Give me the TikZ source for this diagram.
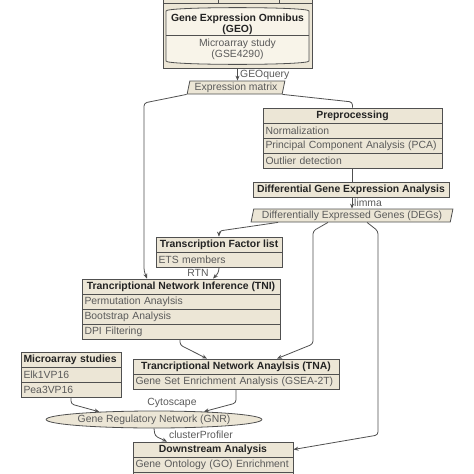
\documentclass[tikz,border=0pt]{standalone}
\usepackage{fontspec}
\setmainfont{Liberation Sans}
\usetikzlibrary{shapes.geometric,arrows.meta,calc}
\definecolor{beige}{RGB}{236,230,214}
\definecolor{lightbeige}{RGB}{248,244,233}
\definecolor{bord}{RGB}{80,80,80}
\definecolor{hdrtext}{RGB}{35,35,35}
\definecolor{rowtext}{RGB}{90,90,90}
\begin{document}
\begin{tikzpicture}[x=1pt,y=-1pt,
  fnt/.style={font=\fontsize{10.4}{11}\selectfont},
  hdr/.style={draw=bord, fill=beige, line width=0.8pt, minimum height=15pt, minimum width=#1, inner sep=0pt, fnt, font=\fontsize{10.4}{11}\selectfont\bfseries, text=hdrtext},
  rowbox/.style={draw=bord, fill=beige, line width=0.8pt, minimum height=15pt, text width=#1, inner xsep=2.5pt, inner ysep=0pt, align=left, fnt, text=rowtext},
  para/.style={trapezium, trapezium left angle=76, trapezium right angle=104, trapezium stretches=true, draw=bord, fill=beige, line width=0.8pt, minimum width=#1, minimum height=13pt, inner sep=0pt, fnt, text=rowtext},
  lbl/.style={inner sep=0pt, fnt, text=rowtext},
  conn/.style={draw=bord, line width=0.8pt, rounded corners=3pt},
  arr/.style={conn, -{Stealth[length=5pt,width=4pt]}}
]
\useasboundingbox (0,0) rectangle (474,474);

% top cut-off box
\node[draw=bord, fill=beige, line width=0.8pt, minimum width=55pt, minimum height=12pt, inner sep=0pt] (top1) at (190.5,-2.5) {};
\node[draw=bord, fill=beige, line width=0.8pt, minimum width=61pt, minimum height=12pt, inner sep=0pt] (top2) at (248.5,-2.5) {};
\node[draw=bord, fill=beige, line width=0.8pt, minimum width=33pt, minimum height=12pt, inner sep=0pt] (top3) at (295.5,-2.5) {};

% GEO
\node[draw=bord, fill=beige, line width=0.8pt, minimum width=149pt, minimum height=64.5pt, inner sep=0pt] (geo) at (237.5,35.75) {};
\filldraw[draw=bord, fill=lightbeige, line width=0.8pt] (166,11) .. controls (166,6.5) and (309,6.5) .. (309,11) -- (309,61) .. controls (309,65.5) and (166,65.5) .. (166,61) -- cycle;
\draw[bord, line width=0.8pt] (166,35.5) -- (309,35.5);
\node[lbl, align=center, font=\fontsize{10.4}{11}\selectfont\bfseries, text=hdrtext] (geot) at (237.5,24.5) {Gene Expression Omnibus\\(GEO)};
\node[lbl, align=center] (geob) at (237.5,49.5) {Microarray study\\(GSE4290)};

% Expression matrix
\node[para=98pt] (expr) at (236,87.5) {Expression matrix};
\draw[arr] (geo.south) -- (geo.south |- expr.north);
\node[lbl, anchor=west] (geoq) at (240,74.5) {GEOquery};

% Preprocessing
\node[hdr=179pt] (preH) at (352.5,115.5) {Preprocessing};
\node[rowbox=174pt] (pre1) at (352.5,130.5) {Normalization};
\node[rowbox=174pt] (pre2) at (352.5,145.5) {Principal Component Analysis (PCA)};
\node[rowbox=174pt] (pre3) at (352.5,160.5) {Outlier detection};

% DGEA
\node[hdr=196pt] (dgea) at (351,189.5) {Differential Gene Expression Analysis};

% DEGs
\node[para=202pt] (degs) at (352,215.5) {Differentially Expressed Genes (DEGs)};
\node[lbl, anchor=west] (limma) at (354,202.5) {limma};

% TF list
\node[hdr=126pt] (tfH) at (219,244.5) {Transcription Factor list};
\node[rowbox=121pt] (tf1) at (219,259.5) {ETS members};

% TNI
\node[hdr=198pt] (tniH) at (181,286.5) {Trancriptional Network Inference (TNI)};
\node[rowbox=193pt] (tni1) at (181,301.5) {Permutation Anaylsis};
\node[rowbox=193pt] (tni2) at (181,316.5) {Bootstrap Analysis};
\node[rowbox=193pt] (tni3) at (181,331.5) {DPI Filtering};
\node[lbl] (rtn) at (198,273) {RTN};

% Microarray studies
\node[hdr=100pt, text width=95pt, align=left] (micH) at (71,359.5) {Microarray studies};
\node[rowbox=95pt] (mic1) at (71,374.5) {Elk1VP16};
\node[rowbox=95pt] (mic2) at (71,389.5) {Pea3VP16};

% TNA
\node[hdr=206pt] (tnaH) at (236,366.5) {Trancriptional Network Anaylsis (TNA)};
\node[rowbox=201pt] (tna1) at (236,381.5) {Gene Set Enrichment Analysis (GSEA-2T)};

% GNR
\node[ellipse, draw=bord, fill=beige, line width=0.8pt, minimum width=212pt, minimum height=17pt, inner sep=0pt, fnt, text=rowtext] (gnr) at (154,419.5) {Gene Regulatory Network (GNR)};
\node[lbl] (cyto) at (172,403) {Cytoscape};

% Downstream
\node[hdr=160pt] (downH) at (213,449.5) {Downstream Analysis};
\node[rowbox=155pt] (down1) at (213,464.5) {\mbox{Gene Ontology (GO) Enrichment}};
\node[rowbox=155pt] (down2) at (213,479.5) {};
\node[lbl, anchor=west] (clp) at (169,435) {clusterProfiler};

% connectors
\draw[arr] (expr.bottom left corner) -- (144,103) -- (144,271) -- ([xshift=-34pt]tniH.north);
\draw[conn] (expr.bottom right corner) -- (352.5,102) -- (preH.north);
\draw[conn] (pre3.south) -- (pre3.south |- dgea.north);
\draw[arr] (dgea.south -| degs.north) -- (degs.north);
\draw[arr] ([xshift=-74pt]degs.south) -- (219,231) -- (tfH.north);
\draw[arr] ([xshift=-24pt]degs.south) -- (313,231) -- (313,344) -- ([xshift=41pt]tnaH.north);
\draw[arr] ([xshift=15pt]degs.south) -- (378,231) -- (378,435) -- (downH.east);
\draw[arr] (tf1.south) -- (218.5,273) -- ([xshift=32pt]tniH.north);
\draw[arr] ([xshift=-1pt]tni3.south) -- (180,345) -- ([xshift=-29pt]tnaH.north);
\draw[arr] (mic2.south) -- (71,404) -- (gnr.172);
\draw[arr] (tna1.south) -- (236,403) -- (gnr.9);
\draw[arr] (gnr.south) -- (155,436) -- ([xshift=-46pt]downH.north);
\end{tikzpicture}
\end{document}
